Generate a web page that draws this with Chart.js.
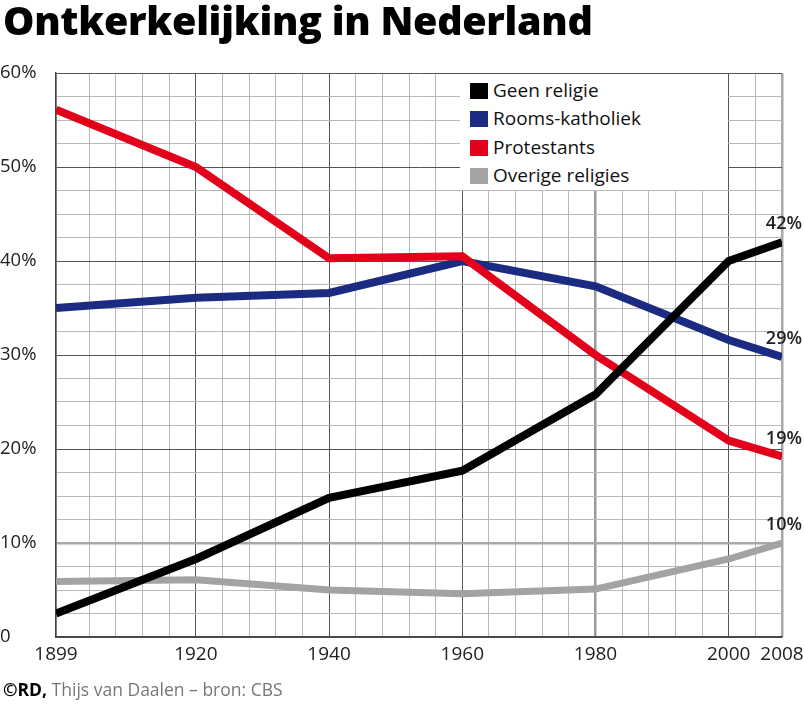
<!DOCTYPE html>
<html>
<head>
<meta charset="utf-8">
<script src="https://cdn.jsdelivr.net/npm/chart.js@4/dist/chart.umd.min.js"></script>
<style>
  html, body { margin: 0; padding: 0; background: #fff; }
  #wrap { position: relative; width: 804px; height: 706px; overflow: hidden; font-family: "Open Sans", sans-serif; }
  #chart { position: absolute; left: 0; top: 0; }
  #titel { position: absolute; left: 3px; top: -7px; font-size: 39.5px; font-weight: 800; color: #000; letter-spacing: -0.3px; white-space: nowrap; }
  #legenda { position: absolute; left: 460px; top: 74px; width: 268px; height: 116px; background: #fff; }
  .item { position: absolute; left: 10px; font-size: 19px; font-weight: 500; color: #111; white-space: nowrap; }
  .item span { display: inline-block; width: 18px; height: 16px; margin-right: 5px; vertical-align: -2px; }
  #bron { position: absolute; left: 3px; top: 677px; font-size: 17.5px; color: #777; white-space: nowrap; }
  #bron b { color: #000; }
</style>
</head>
<body>
<div id="wrap">
  <canvas id="chart" width="804" height="706"></canvas>
  <div id="titel">Ontkerkelijking in Nederland</div>
  <div id="legenda"></div>
  <div id="bron"><b>©RD,</b> Thijs van Daalen – bron: CBS</div>
</div>
<script>
// Gegevens (percentage van de bevolking)
const jaren = [1899, 1920, 1940, 1960, 1980, 2000, 2008];
const geenReligie = [2.5, 8.3, 14.8, 17.7, 25.8, 40.0, 42.0];
const roomsKatholiek = [35.0, 36.1, 36.6, 40.0, 37.3, 31.6, 29.8];
const protestants = [56.1, 50.0, 40.3, 40.5, 30.0, 20.9, 19.2];
const overige = [5.9, 6.1, 5.0, 4.6, 5.1, 8.3, 10.0];
const reeksNamen = ['Geen religie', 'Rooms-katholiek', 'Protestants', 'Overige religies'];
const eindLabels = ['42%', '29%', '19%', '10%'];
const jaarLabels = [1899, 1920, 1940, 1960, 1980, 2000, 2008];
const kleuren = ['#000000', '#1c2b82', '#e2001a', '#a3a3a3'];

const reeksen = [geenReligie, roomsKatholiek, protestants, overige];

// Legenda
const legenda = document.getElementById('legenda');
reeksNamen.forEach((naam, i) => {
    const div = document.createElement('div');
    div.className = 'item';
    div.style.top = (3 + i * 28.3) + 'px';
    div.innerHTML = `<span style="background:${kleuren[i]}"></span>${naam}`;
    legenda.appendChild(div);
});

// Eindwaarden rechts van de lijnen
const eindLabelPlugin = {
    id: 'eindLabels',
    afterDatasetsDraw(chart) {
        const ctx = chart.ctx;
        const y = chart.scales.y;
        ctx.save();
        ctx.font = '600 18px "Open Sans"';
        ctx.fillStyle = '#222';
        ctx.textAlign = 'right';
        ctx.textBaseline = 'middle';
        chart.data.datasets.forEach((ds, i) => {
            const laatste = ds.data[ds.data.length - 1];
            ctx.fillText(eindLabels[i], 802, y.getPixelForValue(laatste.y) - 18);
        });
        ctx.restore();
    }
};

const volgorde = [3, 1, 2, 0]; // grijs onderop, zwart bovenop
const chart = new Chart(document.getElementById('chart'), {
    type: 'line',
    data: {
        datasets: reeksen.map((waarden, i) => ({
            label: reeksNamen[i],
            data: waarden.map((v, j) => ({ x: jaren[j], y: v })),
            borderColor: kleuren[i],
            borderWidth: i === 3 ? 7 : 8,
            pointRadius: 0,
            tension: 0,
            fill: false,
            order: volgorde.indexOf(i) * -1
        }))
    },
    options: {
        responsive: false,
        animation: false,
        layout: { padding: { top: 73, right: 22, left: 0, bottom: 0 } },
        plugins: { legend: { display: false }, tooltip: { enabled: false } },
        scales: {
            x: {
                type: 'linear',
                min: 1899,
                max: 2008,
                afterBuildTicks(scale) {
                    const t = [{ value: 1899 }];
                    for (let j = 1904; j <= 2008; j += 4) t.push({ value: j });
                    scale.ticks = t;
                },
                afterFit(scale) {
                    scale.height = 69;
                    scale.paddingLeft = 0;
                    scale.paddingRight = 0;
                },
                ticks: {
                    autoSkip: false,
                    maxRotation: 0,
                    padding: 6,
                    color: '#222',
                    font: { family: 'Open Sans', size: 19 },
                    callback: v => jaarLabels.includes(v) ? String(v) : ''
                },
                grid: {
                    drawTicks: false,
                    color: c => {
                        const v = c.tick && c.tick.value;
                        if (v === 1980) return '#9a9a9a';
                        if (v === 2008) return '#a8a8a8';
                        if (v === 1920 || v === 1940 || v === 1960 || v === 2000) return '#555';
                        return '#b9b9b9';
                    },
                    lineWidth: c => {
                        const v = c.tick && c.tick.value;
                        return (v === 1980 || v === 2008) ? 2.5 : 1;
                    }
                },
                border: { display: true, color: '#444', width: 1.5 }
            },
            y: {
                min: 0,
                max: 60,
                afterFit(scale) { scale.width = 56; },
                ticks: {
                    stepSize: 2.5,
                    autoSkip: false,
                    crossAlign: 'far',
                    padding: 0,
                    color: '#222',
                    font: { family: 'Open Sans', size: 18.5 },
                    callback: v => v % 10 === 0 ? (v === 0 ? '0' : v + '%') : ''
                },
                grid: {
                    drawTicks: false,
                    color: c => {
                        const v = c.tick && c.tick.value;
                        if (v === 10) return '#a8a8a8';
                        if (v % 10 === 0) return '#555';
                        return '#b9b9b9';
                    },
                    lineWidth: c => (c.tick && c.tick.value === 10) ? 2.5 : 1
                },
                border: { display: true, color: '#444', width: 1.5 }
            }
        }
    },
    plugins: [eindLabelPlugin]
});
</script>
</body>
</html>
